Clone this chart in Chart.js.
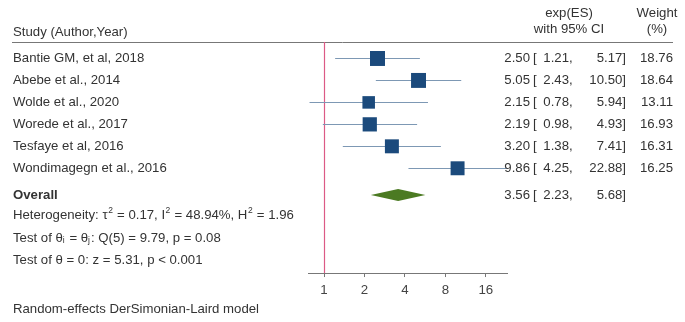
<!DOCTYPE html>
<html>
<head>
<meta charset="utf-8">
<script src="https://cdn.jsdelivr.net/npm/chart.js@4.4.1/dist/chart.umd.min.js"></script>
<style>
  body { margin: 0; background: #fff; }
  #forest { display: block; }
</style>
</head>
<body>
<canvas id="forest" width="685" height="322"></canvas>
<script>
const studies = ["Bantie GM, et al, 2018", "Abebe et al., 2014", "Wolde et al., 2020",
  "Worede et al., 2017", "Tesfaye et al, 2016", "Wondimagegn et al., 2016"];
const estimates = [2.50, 5.05, 2.15, 2.19, 3.20, 9.86];
const lower = [1.21, 2.43, 0.78, 0.98, 1.38, 4.25];
const upper = [5.17, 10.50, 5.94, 4.93, 7.41, 22.88];
const weights = [18.76, 18.64, 13.11, 16.93, 16.31, 16.25];
const overall = [3.56, 2.23, 5.68]; // estimate, lower, upper
const xTicks = [1, 2, 4, 8, 16];

const FONT = '"Liberation Sans", Arial, sans-serif';
const FS = 13.2;
const TXT = "#333";
const overallRow = 6.22;

// rows: studies 0..5, then overall + stats lines
const squares = estimates.map((v, i) => ({ x: v, y: i }));
const sizes = weights.map(w => 10.6 * Math.sqrt(w / 18.76));

function fmt(v) { return v.toFixed(2); }

// draw text with sub/superscript runs
function runs(ctx, x, y, parts) {
  parts.forEach(p => {
    let t = p, mode = "";
    if (Array.isArray(p)) { t = p[0]; mode = p[1]; }
    if (mode === "sup") {
      ctx.font = "8.5px " + FONT;
      ctx.fillText(t, x + 0.5, y - 5);
    } else if (mode === "sub") {
      ctx.font = "8.5px " + FONT;
      ctx.fillText(t, x, y + 3);
    } else {
      ctx.font = FS + "px " + FONT;
      ctx.fillText(t, x, y);
    }
    x += ctx.measureText(t).width + (mode ? 1 : 0);
  });
}

const forestPlugin = {
  id: "forest",
  beforeDatasetsDraw(chart) {
    const { ctx, scales: { x, y }, chartArea } = chart;
    ctx.save();
    // header rule
    ctx.strokeStyle = "#777";
    ctx.lineWidth = 1;
    ctx.beginPath();
    ctx.moveTo(12, chartArea.top + 0.5);
    ctx.lineTo(673, chartArea.top + 0.5);
    ctx.stroke();
    // null line
    const x1 = Math.round(x.getPixelForValue(1)) + 0.5;
    ctx.strokeStyle = "#dc5a86";
    ctx.lineWidth = 1.2;
    ctx.beginPath();
    ctx.moveTo(x1, chartArea.top);
    ctx.lineTo(x1, chartArea.bottom);
    ctx.stroke();
    // CI lines
    ctx.strokeStyle = "#7d98b4";
    ctx.lineWidth = 1;
    studies.forEach((s, i) => {
      const py = Math.round(y.getPixelForValue(i)) + 0.5;
      ctx.beginPath();
      ctx.moveTo(x.getPixelForValue(lower[i]), py);
      ctx.lineTo(x.getPixelForValue(upper[i]), py);
      ctx.stroke();
    });
    // overall diamond
    const oy = y.getPixelForValue(overallRow);
    ctx.fillStyle = "#4b7a22";
    ctx.beginPath();
    ctx.moveTo(x.getPixelForValue(overall[1]), oy);
    ctx.lineTo(x.getPixelForValue(overall[0]), oy - 6);
    ctx.lineTo(x.getPixelForValue(overall[2]), oy);
    ctx.lineTo(x.getPixelForValue(overall[0]), oy + 6);
    ctx.closePath();
    ctx.fill();
    ctx.restore();
  },
  afterDraw(chart) {
    const { ctx, scales: { y } } = chart;
    ctx.save();
    ctx.fillStyle = TXT;
    ctx.textBaseline = "middle";
    ctx.font = FS + "px " + FONT;

    // headers
    ctx.textAlign = "left";
    ctx.fillText("Study (Author,Year)", 13, 32);
    ctx.textAlign = "center";
    ctx.fillText("exp(ES)", 569, 13);
    ctx.fillText("with 95% CI", 569, 29);
    ctx.fillText("Weight", 657, 13);
    ctx.fillText("(%)", 657, 29);

    const esCols = (py, e, lo, hi) => {
      ctx.textAlign = "right";
      ctx.fillText(fmt(e), 530, py);
      ctx.textAlign = "left";
      ctx.fillText("[", 533, py);
      ctx.textAlign = "right";
      ctx.fillText(fmt(lo), 569, py);
      ctx.textAlign = "left";
      ctx.fillText(",", 569, py);
      ctx.textAlign = "right";
      ctx.fillText(fmt(hi) + "]", 626, py);
    };

    studies.forEach((s, i) => {
      const py = y.getPixelForValue(i);
      ctx.textAlign = "left";
      ctx.fillText(s, 13, py);
      esCols(py, estimates[i], lower[i], upper[i]);
      ctx.textAlign = "right";
      ctx.fillText(fmt(weights[i]), 673, py);
    });

    const oy = y.getPixelForValue(overallRow);
    ctx.textAlign = "left";
    ctx.font = "bold " + FS + "px " + FONT;
    ctx.fillText("Overall", 13, oy);
    ctx.font = FS + "px " + FONT;
    esCols(oy, overall[0], overall[1], overall[2]);

    ctx.textAlign = "left";
    runs(ctx, 13, y.getPixelForValue(7.15), ["Heterogeneity: \u03c4", ["2", "sup"], " = 0.17, I", ["2", "sup"],
      " = 48.94%, H", ["2", "sup"], " = 1.96"]);
    runs(ctx, 13, y.getPixelForValue(8.18), ["Test of \u03b8", ["i", "sub"], " = \u03b8", ["j", "sub"],
      ": Q(5) = 9.79, p = 0.08"]);
    runs(ctx, 13, y.getPixelForValue(9.18), ["Test of \u03b8 = 0: z = 5.31, p < 0.001"]);

    ctx.font = FS + "px " + FONT;
    ctx.fillText("Random-effects DerSimonian-Laird model", 13, 309);
    ctx.restore();
  }
};

new Chart(document.getElementById("forest"), {
  type: "scatter",
  data: {
    datasets: [{
      data: squares,
      pointStyle: "rect",
      pointRadius: sizes,
      pointHoverRadius: sizes,
      backgroundColor: "#1b4a7c",
      borderColor: "#1b4a7c",
      borderWidth: 0
    }]
  },
  options: {
    responsive: false,
    animation: false,
    layout: { padding: { left: 308, right: 178, top: 42, bottom: 19 } },
    plugins: { legend: { display: false }, tooltip: { enabled: false } },
    scales: {
      x: {
        type: "logarithmic",
        min: 0.76,
        max: 23,
        afterBuildTicks: axis => { axis.ticks = xTicks.map(v => ({ value: v })); },
        ticks: {
          autoSkip: false,
          maxRotation: 0,
          padding: 5,
          color: "#444",
          font: { family: FONT, size: 13.3 },
          callback: v => String(v)
        },
        grid: { display: true, drawOnChartArea: false, drawTicks: true, tickLength: 4, color: "#777" },
        border: { display: true, color: "#777", width: 1 }
      },
      y: {
        type: "linear",
        reverse: true,
        min: -0.75,
        max: 9.77,
        display: false
      }
    }
  },
  plugins: [forestPlugin]
});
</script>
</body>
</html>
